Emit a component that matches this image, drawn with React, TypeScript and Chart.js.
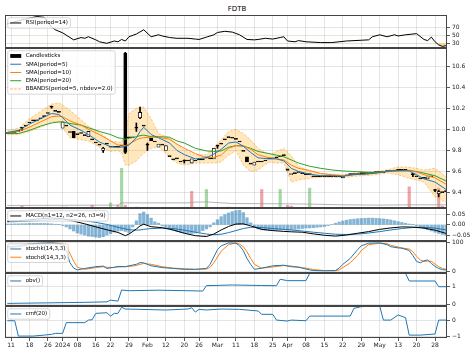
import React, { useEffect, useRef } from 'react';
import { Chart, registerables } from 'chart.js';

Chart.register(...registerables);

const W = 474;
const H = 355;
const FONT = '"DejaVu Sans", "Liberation Sans", sans-serif';
const TICK_FS = 6;
const LEG_FS = 5.5;
const GRID = 'rgba(0,0,0,0.13)';
const SPINE = '#444';
const BLUE = '#1f77b4';
const ORANGE = '#ff7f0e';
const GREEN = '#2ca02c';

const X_MIN = -1.63;
const X_MAX = 118.25;

// ---- x axis (trading-day index) ----
const tickIdx = [0, 5, 10, 14, 18, 23, 27, 32, 37, 42, 47, 51, 56, 61, 66, 71, 75, 80, 85, 90, 95, 100, 105, 110, 115];
const tickLabels = ['11', '18', '26', '2024', '08', '16', '22', '29', 'Feb', '12', '20', '26', 'Mar', '11', '18', '25', 'Apr', '08', '15', '22', '29', 'May', '13', '20', '28'];

// ---- candles (day index -1 .. 118) ----
const FIRST_DAY = -1;
const opens = [
  9.96, 9.96, 9.97, 9.98, 10.01, 10.03, 10.06, 10.08, 10.08, 10.10,
  10.12, 10.15, 10.21, 10.17, 10.16, 10.01, 10.03, 9.97, 9.98, 9.95,
  9.96, 9.94, 9.93, 9.90, 9.87, 9.85, 9.80, 9.86, 9.83, 9.83,
  9.83, 9.84, 10.72, 9.92, 9.92, 10.01, 10.11, 10.03, 9.85, 9.915,
  9.88, 9.83, 9.85, 9.80, 9.75, 9.71, 9.72, 9.69, 9.70, 9.70,
  9.68, 9.70, 9.71, 9.71, 9.73, 9.72, 9.72, 9.84, 9.86, 9.90,
  9.93, 9.915, 9.905, 9.88, 9.80, 9.74, 9.67, 9.66, 9.69, 9.69,
  9.70, 9.72, 9.72, 9.73, 9.74, 9.76, 9.625, 9.57, 9.58, 9.59,
  9.58, 9.57, 9.57, 9.55, 9.55, 9.55, 9.55, 9.55, 9.55, 9.55,
  9.55, 9.54, 9.56, 9.57, 9.57, 9.57, 9.58, 9.58, 9.58, 9.585,
  9.59, 9.59, 9.59, 9.60, 9.60, 9.605, 9.61, 9.615, 9.61, 9.605,
  9.57, 9.55, 9.53, 9.535, 9.53, 9.55, 9.42, 9.39, 9.40, 9.42,
];
const closes = [
  9.96, 9.96, 9.97, 9.98, 10.01, 10.03, 10.06, 10.08, 10.08, 10.10,
  10.12, 10.15, 10.21, 10.17, 10.16, 10.07, 10.03, 9.97, 9.92, 9.95,
  9.96, 9.94, 9.98, 9.90, 9.87, 9.85, 9.82, 9.86, 9.83, 9.83,
  9.83, 9.84, 9.78, 9.92, 9.92, 10.01, 10.16, 10.03, 9.85, 9.89,
  9.88, 9.86, 9.85, 9.845, 9.74, 9.71, 9.72, 9.69, 9.70, 9.70,
  9.72, 9.70, 9.71, 9.71, 9.73, 9.72, 9.82, 9.84, 9.86, 9.90,
  9.92, 9.915, 9.905, 9.88, 9.79, 9.69, 9.67, 9.69, 9.69, 9.69,
  9.70, 9.72, 9.72, 9.73, 9.74, 9.75, 9.61, 9.58, 9.58, 9.60,
  9.58, 9.57, 9.57, 9.55, 9.55, 9.55, 9.55, 9.55, 9.55, 9.55,
  9.55, 9.555, 9.56, 9.57, 9.57, 9.57, 9.58, 9.58, 9.58, 9.585,
  9.59, 9.59, 9.59, 9.60, 9.60, 9.605, 9.61, 9.61, 9.61, 9.605,
  9.57, 9.55, 9.53, 9.535, 9.55, 9.55, 9.42, 9.41, 9.40, 9.41,
];
const wickIdx = [3, 11, 25, 31, 34, 35, 37, 47, 56, 109, 115, 116];
const wickHigh = [10.02, 10.22, 9.83, 10.73, 10.06, 10.21, 9.87, 9.71, 9.85, 9.58, 9.43, 9.42];
const wickLow = [9.99, 10.20, 9.78, 9.77, 9.98, 10.10, 9.80, 9.68, 9.82, 9.55, 9.41, 9.36];

// ---- volume (thousands) ----
const volume = [
  0, 0, 0.5, 0, 3, 0, 0.5, 0, 0, 0.5,
  0, 0.5, 1, 0, 0.5, 1.5, 1.5, 0, 1, 0,
  0, 0.5, 0, 4.5, 0, 0.5, 1, 0, 8, 0.5,
  4.5, 62, 4.5, 1, 0, 1.5, 1, 0.5, 0, 1,
  0, 0.5, 0, 0.5, 1, 1, 0, 0.5, 0, 0.5,
  26, 0, 0.5, 0, 29, 0, 1, 1, 0, 0.5,
  1.5, 0, 0.5, 0, 0.5, 1, 0, 0.5, 0, 29,
  0, 0.5, 0, 0.5, 29, 0.5, 4, 3, 0, 0.5,
  0, 0.5, 31, 0, 0.5, 0, 0.5, 0, 0, 0.5,
  0, 0.5, 0, 0, 0.5, 0, 0, 0.5, 0, 0,
  0.5, 0, 0, 0.5, 0, 0, 0.5, 1, 0, 33,
  0, 0.5, 0, 0, 0.5, 0, 1, 31, 3, 1,
];
const volDownDays = [3, 22, 29, 31, 49, 68, 75, 76, 108, 116, 117];
const volMaIdx = [-1, 29, 30, 48, 49, 53, 60, 75, 82, 90, 100, 108, 118];
const volMaVal = [4, 4.5, 8, 8, 9, 9.5, 7, 6.5, 6, 5, 4.5, 5, 5];

// ---- overlays on price ----
const priceIdx = [-1, 2, 5, 8, 11, 13, 14, 16, 19, 21, 24, 27, 29, 30, 31, 32, 34, 35, 36, 38, 40, 43, 45, 47, 50, 53, 55, 57, 59, 61, 63, 65, 67, 70, 72, 74, 76, 78, 81, 84, 87, 90, 93, 96, 99, 102, 105, 108, 110, 112, 115, 118];
const sma5 = [9.97, 9.99, 10.05, 10.10, 10.15, 10.14, 10.11, 10.04, 9.99, 9.95, 9.88, 9.835, 9.83, 9.83, 9.84, 9.85, 9.92, 9.98, 10.02, 9.95, 9.92, 9.87, 9.80, 9.76, 9.72, 9.73, 9.765, 9.81, 9.87, 9.88, 9.84, 9.78, 9.73, 9.72, 9.72, 9.70, 9.63, 9.60, 9.575, 9.56, 9.56, 9.555, 9.57, 9.575, 9.585, 9.60, 9.61, 9.605, 9.57, 9.53, 9.50, 9.43];
const sma10 = [9.97, 9.98, 10.02, 10.07, 10.12, 10.125, 10.12, 10.08, 10.04, 10.00, 9.95, 9.89, 9.85, 9.85, 9.845, 9.86, 9.90, 9.915, 9.92, 9.925, 9.925, 9.905, 9.86, 9.82, 9.77, 9.73, 9.735, 9.755, 9.82, 9.845, 9.845, 9.81, 9.76, 9.73, 9.72, 9.71, 9.66, 9.63, 9.61, 9.58, 9.57, 9.56, 9.57, 9.575, 9.585, 9.60, 9.605, 9.61, 9.595, 9.57, 9.54, 9.48];
const ema20 = [9.96, 9.96, 9.99, 10.03, 10.06, 10.07, 10.07, 10.055, 10.04, 10.015, 9.98, 9.95, 9.92, 9.915, 9.905, 9.915, 9.93, 9.94, 9.945, 9.93, 9.93, 9.925, 9.89, 9.87, 9.82, 9.795, 9.79, 9.795, 9.83, 9.845, 9.84, 9.82, 9.79, 9.77, 9.755, 9.74, 9.71, 9.68, 9.65, 9.63, 9.615, 9.605, 9.60, 9.595, 9.59, 9.60, 9.605, 9.61, 9.60, 9.585, 9.56, 9.51];
const bbUpper = [9.99, 10.01, 10.10, 10.17, 10.24, 10.25, 10.23, 10.18, 10.09, 10.03, 9.97, 9.89, 9.88, 9.88, 9.95, 10.15, 10.20, 10.21, 10.21, 10.10, 9.96, 9.92, 9.86, 9.80, 9.755, 9.76, 9.82, 9.90, 9.98, 10.00, 9.96, 9.90, 9.82, 9.755, 9.79, 9.82, 9.75, 9.65, 9.60, 9.58, 9.575, 9.57, 9.585, 9.59, 9.60, 9.615, 9.645, 9.64, 9.63, 9.615, 9.63, 9.55];
const bbLower = [9.95, 9.95, 9.98, 10.02, 10.07, 10.07, 10.01, 9.92, 9.90, 9.89, 9.83, 9.79, 9.80, 9.78, 9.66, 9.66, 9.70, 9.74, 9.775, 9.82, 9.835, 9.74, 9.68, 9.66, 9.68, 9.68, 9.68, 9.69, 9.755, 9.80, 9.66, 9.60, 9.615, 9.69, 9.68, 9.68, 9.50, 9.52, 9.535, 9.545, 9.545, 9.54, 9.555, 9.56, 9.57, 9.585, 9.57, 9.535, 9.52, 9.50, 9.36, 9.31];

// ---- RSI ----
const rsiIdx = [-1, 2, 5, 7, 9, 10, 11, 12, 14, 16, 17, 19, 20, 21, 23, 24, 26, 28, 29, 30, 31, 32, 34, 36, 38, 40, 41, 43, 45, 48, 50, 51, 53, 55, 56, 58, 60, 62, 64, 66, 67, 69, 71, 73, 74, 75, 77, 78, 80, 84, 87, 91, 95, 97, 98, 100, 102, 104, 105, 107, 110, 112, 113, 114, 115, 116, 117, 118];
const rsiVal = [80, 88, 95, 99, 97, 85, 72, 65, 57, 45, 39, 45, 43, 47, 39, 34, 30, 36, 34, 40, 36, 47, 54, 65, 47, 52, 49, 45, 43, 43, 41, 40, 46, 52, 58, 61, 59, 52, 40, 39, 40, 43, 41, 45, 47, 36, 34, 37, 34, 32, 32, 36, 38, 39, 47, 52, 47, 52, 49, 52, 55, 40, 37, 46, 34, 26, 22, 24];

// ---- MACD ----
const macdIdx = [-1, 2, 5, 8, 11, 14, 17, 20, 23, 26, 29, 31, 32, 34, 35, 36, 38, 41, 44, 47, 50, 53, 55, 57, 59, 61, 63, 65, 68, 71, 74, 76, 79, 82, 85, 88, 91, 94, 97, 100, 103, 106, 109, 112, 115, 118];
const macdVal = [0.018, 0.02, 0.025, 0.03, 0.034, 0.03, 0.018, 0.005, -0.01, -0.024, -0.037, -0.053, -0.045, -0.02, -0.005, 0.003, -0.009, -0.014, -0.025, -0.041, -0.053, -0.057, -0.045, -0.025, -0.008, 0.004, 0.005, -0.005, -0.022, -0.028, -0.032, -0.034, -0.036, -0.044, -0.051, -0.055, -0.05, -0.041, -0.033, -0.022, -0.015, -0.01, -0.011, -0.016, -0.026, -0.042];
const signalVal = [0.015, 0.016, 0.018, 0.022, 0.026, 0.028, 0.026, 0.02, 0.012, 0.002, -0.012, -0.02, -0.024, -0.026, -0.025, -0.022, -0.018, -0.016, -0.018, -0.026, -0.036, -0.045, -0.048, -0.046, -0.038, -0.028, -0.018, -0.012, -0.013, -0.018, -0.022, -0.025, -0.03, -0.036, -0.041, -0.046, -0.047, -0.045, -0.04, -0.033, -0.025, -0.018, -0.013, -0.012, -0.016, -0.025];
const macdHist = [
  0.004, 0.004, 0.005, 0.005, 0.006, 0.006, 0.007, 0.007, 0.007, 0.007,
  0.007, 0.006, 0.005, 0.003, 0.001, -0.003, -0.01, -0.02, -0.03, -0.04,
  -0.045, -0.05, -0.055, -0.057, -0.06, -0.062, -0.058, -0.05, -0.043, -0.035,
  -0.03, -0.028, -0.032, -0.038, -0.01, 0.02, 0.055, 0.063, 0.05, 0.033,
  0.015, 0.008, -0.005, -0.012, -0.02, -0.028, -0.033, -0.037, -0.04, -0.042,
  -0.042, -0.04, -0.035, -0.028, -0.02, -0.01, 0.01, 0.025, 0.04, 0.05,
  0.058, 0.065, 0.07, 0.071, 0.06, 0.035, 0.01, -0.01, -0.02, -0.025,
  -0.026, -0.027, -0.027, -0.026, -0.025, -0.024, -0.026, -0.025, -0.022, -0.02,
  -0.018, -0.016, -0.015, -0.014, -0.012, -0.01, -0.008, -0.004, 0.002, 0.008,
  0.014, 0.019, 0.023, 0.026, 0.028, 0.03, 0.031, 0.032, 0.033, 0.033,
  0.032, 0.031, 0.029, 0.027, 0.024, 0.02, 0.016, 0.012, 0.008, 0.004,
  0.001, -0.006, -0.012, -0.018, -0.024, -0.03, -0.036, -0.042, -0.047, -0.051,
];

// ---- Stochastic ----
const stochIdx = [-1, 2, 5, 8, 11, 13, 14, 15, 16, 17, 18, 20, 23, 25, 26, 28, 29, 31, 32, 34, 35, 36, 38, 41, 44, 47, 50, 53, 54, 55, 56, 57, 59, 61, 62, 63, 64, 65, 66, 68, 71, 74, 76, 78, 79, 81, 82, 85, 88, 89, 90, 92, 94, 95, 97, 100, 102, 103, 105, 106, 108, 109, 110, 111, 112, 113, 114, 115, 116, 117, 118];
const stochK = [85, 88, 95, 97, 98, 96, 92, 70, 30, 12, 6, 11, 17, 19, 11, 15, 18, 17, 20, 25, 31, 30, 20, 14, 11, 8, 8, 11, 25, 50, 75, 88, 98, 97, 88, 72, 45, 25, 8, 12, 20, 22, 17, 15, 12, 6, 4, 3, 4, 12, 25, 45, 75, 88, 97, 98, 92, 85, 81, 80, 72, 55, 35, 30, 37, 40, 28, 18, 11, 7, 6];
const stochD = [80, 85, 92, 96, 97, 97, 95, 85, 62, 35, 15, 8, 14, 17, 15, 14, 16, 17, 18, 21, 25, 28, 25, 17, 12, 10, 8, 9, 15, 30, 50, 70, 92, 98, 94, 85, 68, 45, 25, 12, 16, 21, 19, 16, 14, 10, 7, 4, 3, 6, 14, 30, 55, 72, 92, 97, 95, 90, 84, 81, 77, 68, 52, 40, 35, 36, 35, 26, 17, 11, 8];

// ---- OBV (x1e5) ----
const obvIdx = [-1, 10, 20, 26, 27, 28, 29, 30, 32, 40, 48, 52, 53, 60, 68, 72, 73, 75, 80, 81, 107, 108, 115, 116, 118];
const obvVal = [0.04, 0.07, 0.1, 0.13, 0.23, 0.2, 0.17, 0.81, 0.77, 0.8, 0.77, 0.75, 1.06, 1.1, 1.07, 1.06, 1.43, 1.35, 1.35, 1.77, 1.77, 1.33, 1.33, 1.0, 1.0];

// ---- CMF ----
const cmfIdx = [-1, 1, 2, 6, 9, 11, 12, 14, 15, 20, 21, 22, 23, 26, 27, 28, 29, 30, 31, 35, 42, 48, 49, 50, 51, 53, 57, 62, 67, 68, 71, 72, 75, 76, 80, 81, 92, 93, 95, 100, 101, 103, 105, 107, 108, 111, 115, 116, 118];
const cmfVal = [0, 0, -0.96, -0.96, -0.9, -0.85, -0.79, -0.79, -0.12, -0.12, 0.04, 0.06, 0.46, 0.5, 0.29, 0.46, 0.46, 0.84, 0.73, 0.71, 0.67, 0.73, 0.81, 0.54, 0.71, 0.67, 0.73, 0.71, 0.61, 0.4, 0.4, 0.04, -0.02, 0.04, 0, 0.29, 0.29, 0.77, 0.88, 0.92, 0.04, 0.04, 0.36, 0.19, -0.9, -0.9, -0.83, 0.04, 0.04];

// ---- layout of panels (top, bottom px) ----
const P_RSI = [15, 48];
const P_MAIN = [48, 208];
const P_MACD = [208, 241];
const P_STOCH = [241, 273];
const P_OBV = [273, 306];
const P_CMF = [306, 338];
const PLOT_RIGHT = 447;

const days = closes.map((_, i) => FIRST_DAY + i);
const pts = (xs: number[], ys: number[]) => xs.map((x, i) => ({ x, y: ys[i] }));
const minus = (s: string) => s.replace('-', '\u2212');

function xScale(showLabels: boolean) {
  return {
    type: 'linear',
    position: 'bottom',
    min: X_MIN,
    max: X_MAX,
    offset: false,
    afterBuildTicks: (s: any) => {
      s.ticks = tickIdx.map((v) => ({ value: v }));
    },
    afterFit: (s: any) => {
      s.height = showLabels ? H - P_CMF[1] : 0;
    },
    grid: { color: GRID, lineWidth: 0.8, drawTicks: showLabels, tickLength: 3, tickColor: '#333', tickWidth: 0.8, offset: false },
    border: { display: false },
    ticks: {
      display: showLabels,
      autoSkip: false,
      maxRotation: 0,
      minRotation: 0,
      padding: 1,
      color: '#222',
      font: { family: FONT, size: TICK_FS },
      callback: (v: any) => {
        const k = tickIdx.indexOf(Number(v));
        return k >= 0 ? tickLabels[k] : '';
      },
    },
  };
}

function yScale(min: number, max: number, ticks: number[], fmt: (v: number) => string) {
  return {
    type: 'linear',
    position: 'right',
    min,
    max,
    afterBuildTicks: (s: any) => {
      s.ticks = ticks.map((v) => ({ value: v }));
    },
    afterFit: (s: any) => {
      s.width = W - PLOT_RIGHT;
    },
    grid: { color: GRID, lineWidth: 0.8, drawTicks: true, tickLength: 3, tickColor: '#333', tickWidth: 0.8 },
    border: { display: false },
    ticks: { padding: 2, color: '#222', font: { family: FONT, size: TICK_FS }, callback: (v: any) => fmt(Number(v)) },
  };
}

function options(panel: number[], showX: boolean, y: any, extra: any = {}) {
  return {
    responsive: false,
    animation: false,
    devicePixelRatio: 1,
    events: [],
    layout: { padding: { left: 5, right: 0, top: panel[0], bottom: showX ? 0 : H - panel[1] } },
    plugins: { legend: { display: false }, tooltip: { enabled: false }, title: { display: false } },
    scales: { x: xScale(showX), y, ...extra },
  };
}

const framePlugin = {
  id: 'frame',
  afterDatasetsDraw(chart: any) {
    const { ctx, chartArea: a } = chart;
    ctx.save();
    ctx.strokeStyle = SPINE;
    ctx.lineWidth = 1;
    ctx.strokeRect(a.left + 0.5, a.top + 0.5, a.right - a.left - 1, a.bottom - a.top - 1);
    ctx.restore();
  },
};

type LegItem = { label: string; color: string; kind: 'line' | 'dash' | 'patch' };

function legendPlugin(items: LegItem[]) {
  return {
    id: 'insideLegend',
    afterDraw(chart: any) {
      const { ctx, chartArea: a } = chart;
      const fs = LEG_FS;
      ctx.save();
      ctx.font = `${fs}px ${FONT}`;
      const tw = Math.max(...items.map((it) => ctx.measureText(it.label).width));
      const pad = 0.45 * fs;
      const hl = 2 * fs;
      const hp = 0.8 * fs;
      const pitch = 1.5 * fs;
      const bx = a.left + 0.5 * fs;
      const by = a.top + 0.5 * fs;
      const bw = pad * 2 + hl + hp + tw;
      const bh = pad * 2 + items.length * pitch - 0.5 * fs;
      const r = 2;
      ctx.beginPath();
      ctx.moveTo(bx + r, by);
      ctx.lineTo(bx + bw - r, by);
      ctx.quadraticCurveTo(bx + bw, by, bx + bw, by + r);
      ctx.lineTo(bx + bw, by + bh - r);
      ctx.quadraticCurveTo(bx + bw, by + bh, bx + bw - r, by + bh);
      ctx.lineTo(bx + r, by + bh);
      ctx.quadraticCurveTo(bx, by + bh, bx, by + bh - r);
      ctx.lineTo(bx, by + r);
      ctx.quadraticCurveTo(bx, by, bx + r, by);
      ctx.closePath();
      ctx.fillStyle = 'rgba(255,255,255,0.8)';
      ctx.fill();
      ctx.strokeStyle = '#cccccc';
      ctx.lineWidth = 0.8;
      ctx.stroke();
      items.forEach((it, i) => {
        const cy = by + pad + i * pitch + fs / 2;
        const hx = bx + pad;
        if (it.kind === 'patch') {
          ctx.fillStyle = it.color;
          ctx.fillRect(hx, cy - fs * 0.35, hl, fs * 0.7);
        } else {
          ctx.strokeStyle = it.color;
          ctx.lineWidth = 1;
          ctx.setLineDash(it.kind === 'dash' ? [2.5, 1.5] : []);
          ctx.beginPath();
          ctx.moveTo(hx, cy);
          ctx.lineTo(hx + hl, cy);
          ctx.stroke();
          ctx.setLineDash([]);
        }
        ctx.fillStyle = '#000';
        ctx.textBaseline = 'middle';
        ctx.textAlign = 'left';
        ctx.fillText(it.label, hx + hl + hp, cy);
      });
      ctx.restore();
    },
  };
}

function line(data: any[], color: string, extra: any = {}) {
  return { type: 'line', data, borderColor: color, borderWidth: 1, pointRadius: 0, tension: 0, fill: false, ...extra };
}

export default function App() {
  const r0 = useRef<HTMLCanvasElement>(null);
  const r1 = useRef<HTMLCanvasElement>(null);
  const r2 = useRef<HTMLCanvasElement>(null);
  const r3 = useRef<HTMLCanvasElement>(null);
  const r4 = useRef<HTMLCanvasElement>(null);
  const r5 = useRef<HTMLCanvasElement>(null);

  useEffect(() => {
    const charts: Chart[] = [];
    const fmt1 = (v: number) => v.toFixed(1);
    const fmtInt = (v: number) => minus(String(Math.round(v)));
    const fmt2 = (v: number) => minus(v.toFixed(2));

    // RSI
    charts.push(
      new Chart(r0.current as HTMLCanvasElement, {
        type: 'line',
        data: {
          datasets: [
            line(pts(rsiIdx, rsiVal), '#000', {
              fill: { target: { value: 30 }, above: 'rgba(0,0,0,0)', below: 'rgba(255,165,0,0.5)' },
            }),
          ],
        },
        options: options(P_RSI, false, yScale(18, 103, [30, 50, 70], fmtInt)) as any,
        plugins: [framePlugin, legendPlugin([{ label: 'RSI(period=14)', color: '#000', kind: 'line' }])],
      } as any)
    );

    // Main price panel
    const upColor = (i: number) => closes[i] > opens[i];
    charts.push(
      new Chart(r1.current as HTMLCanvasElement, {
        type: 'line',
        data: {
          datasets: [
            {
              type: 'bar',
              yAxisID: 'yv',
              order: 20,
              grouped: false,
              barThickness: 2.5,
              data: pts(days, volume),
              backgroundColor: (c: any) =>
                volDownDays.includes(days[c.dataIndex]) ? 'rgba(214,39,40,0.42)' : 'rgba(44,160,44,0.42)',
            },
            line(pts(volMaIdx, volMaVal), 'rgba(150,150,150,0.7)', { yAxisID: 'yv', order: 19 }),
            line(pts(priceIdx, bbUpper), 'rgba(255,140,0,0.55)', {
              order: 15,
              borderDash: [2.5, 1.5],
              borderWidth: 0.8,
              fill: '+1',
              backgroundColor: 'rgba(255,165,0,0.26)',
            }),
            line(pts(priceIdx, bbLower), 'rgba(255,140,0,0.55)', { order: 14, borderDash: [2.5, 1.5], borderWidth: 0.8 }),
            {
              type: 'bar',
              order: 10,
              grouped: false,
              barThickness: 1,
              data: wickIdx.map((d, i) => ({ x: d, y: [wickLow[i], wickHigh[i]] })),
              backgroundColor: '#000',
              borderWidth: 0,
            },
            {
              type: 'bar',
              order: 9,
              grouped: false,
              barThickness: 3.2,
              minBarLength: 1,
              borderSkipped: false,
              data: days.map((d, i) => ({ x: d, y: [opens[i], closes[i]] })),
              backgroundColor: (c: any) => (upColor(c.dataIndex) ? '#ffffff' : '#000000'),
              borderColor: '#000',
              borderWidth: 0.8,
            },
            line(pts(priceIdx, ema20), GREEN, { order: 3 }),
            line(pts(priceIdx, sma10), ORANGE, { order: 2 }),
            line(pts(priceIdx, sma5), BLUE, { order: 1 }),
          ],
        },
        options: options(P_MAIN, false, yScale(9.254, 10.771, [9.4, 9.6, 9.8, 10.0, 10.2, 10.4, 10.6], fmt1), {
          yv: { type: 'linear', display: false, min: 0, max: 250 },
        }) as any,
        plugins: [
          framePlugin,
          legendPlugin([
            { label: 'Candlesticks', color: '#000', kind: 'patch' },
            { label: 'SMA(period=5)', color: BLUE, kind: 'line' },
            { label: 'SMA(period=10)', color: ORANGE, kind: 'line' },
            { label: 'EMA(period=20)', color: GREEN, kind: 'line' },
            { label: 'BBANDS(period=5, nbdev=2.0)', color: 'rgba(255,140,0,0.7)', kind: 'dash' },
          ]),
        ],
      } as any)
    );

    // MACD
    charts.push(
      new Chart(r2.current as HTMLCanvasElement, {
        type: 'line',
        data: {
          datasets: [
            {
              type: 'bar',
              order: 10,
              grouped: false,
              barThickness: 2.6,
              data: pts(days, macdHist),
              backgroundColor: 'rgba(31,119,180,0.55)',
            },
            line(pts(macdIdx, signalVal), BLUE, { order: 2 }),
            line(pts(macdIdx, macdVal), '#000', { order: 1 }),
          ],
        },
        options: options(P_MACD, false, yScale(-0.079, 0.0825, [-0.05, 0, 0.05], fmt2)) as any,
        plugins: [framePlugin, legendPlugin([{ label: 'MACD(n1=12, n2=26, n3=9)', color: '#000', kind: 'line' }])],
      } as any)
    );

    // Stochastic
    charts.push(
      new Chart(r3.current as HTMLCanvasElement, {
        type: 'line',
        data: {
          datasets: [line(pts(stochIdx, stochD), ORANGE, { order: 2 }), line(pts(stochIdx, stochK), BLUE, { order: 1 })],
        },
        options: options(P_STOCH, false, yScale(-4.5, 104.5, [0, 100], fmtInt)) as any,
        plugins: [
          framePlugin,
          legendPlugin([
            { label: 'stochk(14,3,3)', color: BLUE, kind: 'line' },
            { label: 'stochd(14,3,3)', color: ORANGE, kind: 'line' },
          ]),
        ],
      } as any)
    );

    // OBV
    charts.push(
      new Chart(r4.current as HTMLCanvasElement, {
        type: 'line',
        data: { datasets: [line(pts(obvIdx, obvVal), BLUE)] },
        options: options(P_OBV, false, yScale(-0.11, 1.79, [0, 1], fmtInt)) as any,
        plugins: [framePlugin, legendPlugin([{ label: 'obv()', color: BLUE, kind: 'line' }])],
      } as any)
    );

    // CMF
    charts.push(
      new Chart(r5.current as HTMLCanvasElement, {
        type: 'line',
        data: { datasets: [line(pts(cmfIdx, cmfVal), BLUE)] },
        options: options(P_CMF, true, yScale(-1.08, 0.92, [-1, 0], fmtInt)) as any,
        plugins: [framePlugin, legendPlugin([{ label: 'cmf(20)', color: BLUE, kind: 'line' }])],
      } as any)
    );

    return () => charts.forEach((c) => c.destroy());
  }, []);

  const cv = { position: 'absolute' as const, left: 0, top: 0, display: 'block' };
  return (
    <div style={{ position: 'fixed', left: 0, top: 0, width: W, height: H, background: '#fff', overflow: 'hidden' }}>
      <div
        style={{
          position: 'absolute',
          top: 4,
          left: 0,
          width: W,
          textAlign: 'center',
          fontFamily: FONT,
          fontSize: 7,
          lineHeight: '10px',
          color: '#000',
        }}
      >
        FDTB
      </div>
      <canvas ref={r0} width={W} height={H} style={cv} />
      <canvas ref={r1} width={W} height={H} style={cv} />
      <canvas ref={r2} width={W} height={H} style={cv} />
      <canvas ref={r3} width={W} height={H} style={cv} />
      <canvas ref={r4} width={W} height={H} style={cv} />
      <canvas ref={r5} width={W} height={H} style={cv} />
    </div>
  );
}
